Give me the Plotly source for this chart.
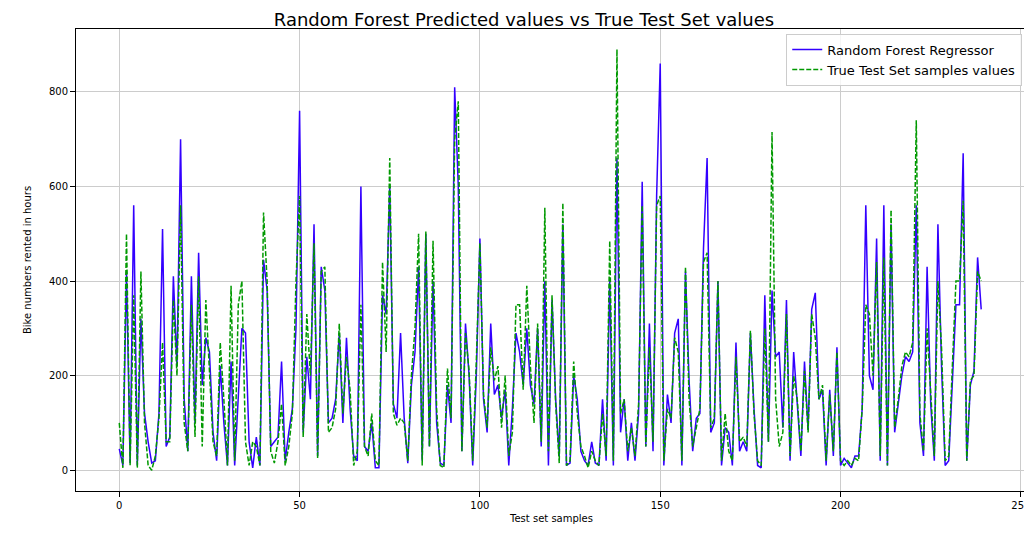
import plotly.graph_objects as go

# Random Forest predictions
pred = [45, 10, 420, 15, 560, 10, 320, 120, 60, 15,
        20, 120, 510, 50, 70, 410, 220, 700, 150, 40,
        410, 100, 460, 180, 280, 250, 80, 20, 220, 100,
        10, 230, 10, 170, 300, 290, 60, 5, 70, 10,
        445, 380, 50, 60, 70, 230, 20, 80, 130, 300,
        760, 80, 240, 150, 520, 30, 430, 380, 100, 110,
        150, 290, 100, 280, 130, 30, 20, 600, 50, 40,
        100, 5, 5, 370, 330, 600, 140, 110, 290, 110,
        15, 180, 250, 430, 20, 500, 50, 400, 100, 15,
        10, 180, 100, 810, 600, 40, 310, 200, 10, 200,
        490, 150, 80, 310, 160, 180, 110, 170, 10, 130,
        290, 250, 180, 300, 180, 140, 300, 50, 400, 10,
        360, 150, 30, 520, 10, 15, 200, 150, 40, 20,
        10, 60, 15, 10, 150, 20, 400, 10, 660, 80,
        150, 20, 100, 20, 120, 610, 50, 310, 40, 580,
        860, 10, 160, 100, 290, 320, 10, 420, 190, 40,
        110, 120, 470, 660, 80, 100, 400, 10, 90, 80,
        10, 270, 40, 60, 40, 290, 130, 10, 5, 370,
        60, 380, 240, 250, 90, 360, 20, 250, 140, 30,
        230, 85, 340, 375, 150, 170, 10, 170, 30, 260,
        10, 25, 15, 5, 30, 30, 130, 560, 200, 170,
        490, 20, 560, 10, 520, 80, 140, 200, 240, 230,
        250, 560, 100, 30, 430, 140, 20, 520, 220, 10,
        20, 200, 350, 350, 670, 20, 180, 210, 450, 340]

# true test set values
true_vals = [100, 5, 500, 10, 370, 5, 420, 100, 10, 0,
             30, 110, 270, 60, 60, 360, 200, 560, 100, 40,
             350, 70, 410, 50, 360, 200, 60, 30, 270, 150,
             10, 390, 20, 350, 400, 60, 10, 60, 50, 10,
             545, 400, 40, 15, 60, 140, 10, 50, 120, 400,
             580, 70, 330, 200, 480, 25, 420, 430, 80, 90,
             130, 310, 120, 240, 170, 10, 40, 350, 50, 30,
             120, 20, 10, 440, 250, 660, 120, 95, 110, 100,
             20, 200, 300, 500, 10, 505, 50, 485, 130, 10,
             5, 215, 110, 700, 780, 40, 290, 210, 20, 230,
             480, 160, 90, 260, 190, 220, 90, 200, 30, 80,
             350, 350, 170, 390, 220, 100, 310, 60, 555, 40,
             370, 140, 15, 565, 10, 20, 230, 120, 50, 30,
             5, 40, 20, 10, 120, 30, 485, 20, 890, 120,
             150, 40, 90, 30, 140, 560, 50, 260, 60, 560,
             580, 20, 130, 110, 280, 250, 20, 430, 150, 50,
             90, 130, 440, 460, 90, 110, 400, 20, 120, 40,
             20, 240, 60, 70, 50, 295, 120, 20, 10, 300,
             60, 715, 150, 50, 80, 330, 30, 200, 150, 40,
             210, 80, 330, 280, 150, 180, 20, 160, 40, 250,
             20, 10, 20, 10, 25, 20, 130, 350, 330, 200,
             440, 30, 450, 10, 550, 90, 150, 220, 250, 240,
             270, 740, 120, 40, 300, 150, 30, 400, 260, 20,
             30, 220, 400, 400, 570, 20, 190, 200, 420, 400]

samples = list(range(len(pred)))

fig = go.Figure()
fig.add_trace(go.Scatter(x=samples, y=pred, mode="lines", name="Random Forest Regressor",
                         line=dict(color="#3300ff", width=1.5)))
fig.add_trace(go.Scatter(x=samples, y=true_vals, mode="lines", name="True Test Set samples values",
                         line=dict(color="#009900", width=1.5, dash="5px,2px")))

axis_style = dict(showgrid=True, gridcolor="#cccccc", showline=True, linecolor="black",
                  mirror=True, ticks="outside", tickcolor="black", zeroline=False,
                  tickfont=dict(size=10, color="black"))

fig.update_layout(
    width=1032, height=534,
    font_family="DejaVu Sans",
    title=dict(text="Random Forest Predicted values vs True Test Set values",
               x=0.5, xanchor="center", y=0.99, font=dict(size=18, color="black")),
    plot_bgcolor="white", paper_bgcolor="white",
    margin=dict(l=68, r=10, t=21, b=51),
    legend=dict(x=0.995, y=0.99, xanchor="right", yanchor="top", bordercolor="#cccccc",
                borderwidth=1, bgcolor="rgba(255,255,255,0.8)", font=dict(size=13, color="black")),
    xaxis=dict(title=dict(text="Test set samples", font=dict(size=10, color="black"), standoff=4),
               range=[-12, 251.7], tickvals=[0, 50, 100, 150, 200, 250], **axis_style),
    yaxis=dict(title=dict(text="Bike numbers rented in hours", font=dict(size=10, color="black")),
               range=[-44, 933], tickvals=[0, 200, 400, 600, 800], **axis_style),
)

fig.write_html("out.html")
